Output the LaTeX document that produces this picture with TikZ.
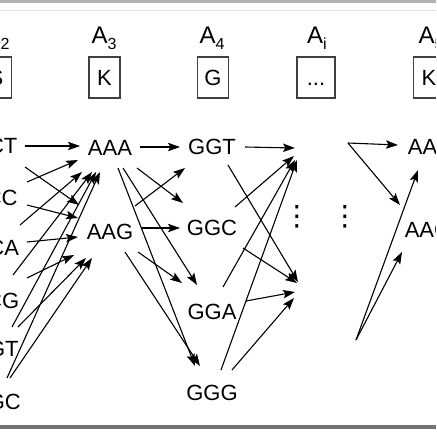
\documentclass[tikz,border=0pt]{standalone}
\usepackage{fontspec}
\setmainfont{Liberation Sans}
\newfontfamily\dotfont{DejaVu Sans}
\usepackage{tikz}
\usetikzlibrary{calc}
\usetikzlibrary{arrows.meta}
\newcommand{\lowidx}[1]{\raisebox{-3pt}{\fontsize{8}{9}\selectfont #1}}

\begin{document}
\begin{tikzpicture}[
  x=0.5pt, y=-0.5pt,
  codon/.style={inner sep=0pt, font=\fontsize{11}{13}\selectfont},
  aabox/.style={draw=black!75, line width=0.7pt, minimum width=15.5pt, minimum height=20.5pt, inner sep=0pt, text height=7.9pt, text depth=0pt, font=\fontsize{11}{13}\selectfont},
  poslbl/.style={anchor=base, inner sep=0pt, font=\fontsize{12}{14}\selectfont},
  vdot/.style={inner sep=0pt, font=\dotfont\fontsize{14}{16}\selectfont},
  link/.style={draw, line width=0.55pt, -{Stealth[length=6pt,width=4.2pt,inset=1.2pt]}} % <-- thin line + filled tip
]
\useasboundingbox (0,0) rectangle (436,436);
\clip (0,0) rectangle (436,436);
% frame
\fill[black!30] (0,0) rectangle (436,3);
\draw[black!12, line width=0.5pt] (0,10) -- (436,10);
\fill[black!55] (0,425) rectangle (436,429);

% positions and amino acids
\node[poslbl] (a2) at (-3,43) {A\lowidx{2}};
\node[poslbl] (a3) at (104,43) {A\lowidx{3}};
\node[poslbl] (a4) at (212,43) {A\lowidx{4}};
\node[poslbl] (ai) at (317,43) {A\lowidx{i}};
\node[poslbl] (a5) at (431,43) {A\lowidx{5}};
\node[aabox] (s2) at (-4,77.5) {S};
\node[aabox] (k3) at (104.5,77.5) {K};
\node[aabox] (g4) at (213,77.5) {G};
\node[aabox, minimum width=19pt] (dd) at (316,77.5) {...};
\node[aabox] (k5) at (429,77.5) {K};

% codons
\node[codon] (tct) at (-4,146) {TCT};
\node[codon] (tcc) at (-5,198) {TCC};
\node[codon] (tca) at (-3,248) {TCA};
\node[codon] (tcg) at (-4,301) {TCG};
\node[codon] (agt) at (-4,349) {AGT};
\node[codon] (agc) at (-3,402) {AGC};
\node[codon] (aaa) at (110,148) {AAA};
\node[codon] (aag) at (110,232) {AAG};
\node[codon] (ggt) at (212,147) {GGT};
\node[codon] (ggc) at (212,228) {GGC};
\node[codon] (gga) at (212,312) {GGA};
\node[codon] (ggg) at (212,393) {GGG};
\node[codon] (aaaR) at (430,147) {AAA};
\node[codon] (aagR) at (428,230) {AAG};
\node[vdot] (vd1) at (297,217) {⋮};
\node[vdot] (vd2) at (345,217) {⋮};
\coordinate (p1) at (297,152);
\coordinate (p2) at (297,287);
\coordinate (q1) at (348,143);
\coordinate (q2) at (356,340);

% S -> K
\draw[link] ($(tct)+(29,0)$) -- ($(aaa)+(-30,-2)$);
\draw[link] ($(tcc)+(32,-16)$) -- ($(aaa)+(-32,12)$);
\draw[link] ($(tca)+(23,-23)$) -- ($(aaa)+(-28,24)$);
\draw[link] ($(tcg)+(17,-26)$) -- ($(aaa)+(-18,24)$);
\draw[link] ($(agt)+(16,-22)$) -- ($(aaa)+(-14,24)$);
\draw[link] ($(agc)+(10,-24)$) -- ($(aaa)+(-10,24)$);
\draw[link] ($(tct)+(29,21)$) -- ($(aag)+(-31,-27)$);
\draw[link] ($(tcc)+(32,7)$) -- ($(aag)+(-32,-14)$);
\draw[link] ($(tca)+(30,-6)$) -- ($(aag)+(-32,5)$);
\draw[link] ($(tcg)+(31,-23)$) -- ($(aag)+(-36,23)$);
\draw[link] ($(agt)+(22,-22)$) -- ($(aag)+(-24,26)$);
\draw[link] ($(agc)+(13,-24)$) -- ($(aag)+(-18,26)$);

% K -> G
\draw[link] ($(aaa)+(30,-1)$) -- ($(ggt)+(-32,0)$);
\draw[link] ($(aaa)+(27,20)$) -- ($(ggc)+(-29,-25)$);
\draw[link] ($(aaa)+(13,20)$) -- ($(gga)+(-15,-27)$);
\draw[link] ($(aaa)+(8,20)$) -- ($(ggg)+(-17,-27)$);
\draw[link] ($(aag)+(25,-26)$) -- ($(ggt)+(-27,21)$);
\draw[link] ($(aag)+(31,-4)$) -- ($(ggc)+(-32,0)$);
\draw[link] ($(aag)+(28,20)$) -- ($(gga)+(-30,-29)$);
\draw[link] ($(aag)+(15,20)$) -- ($(ggg)+(-12,-27)$);

% G -> ...
\draw[link] ($(ggt)+(33,0)$) -- ($(p1)+(-2,-4)$);
\draw[link] ($(ggt)+(16,18)$) -- ($(p2)+(1,-5)$);
\draw[link] ($(ggc)+(23,-21)$) -- ($(p1)+(-3,4)$);
\draw[link] ($(ggc)+(31,20)$) -- ($(p2)+(0,-4)$);
\draw[link] ($(gga)+(11,-25)$) -- ($(p1)+(-2,8)$);
\draw[link] ($(gga)+(34,-11)$) -- ($(p2)+(-2,5)$);
\draw[link] ($(ggg)+(9,-23)$) -- ($(p1)+(0,8)$);
\draw[link] ($(ggg)+(20,-23)$) -- ($(p2)+(-3,11)$);

% ... -> K
\draw[link] (q1) -- ($(aaaR)+(-32,-2)$);
\draw[link] (q1) -- ($(aagR)+(-28,-25)$);
\draw[link] (q2) -- ($(aaaR)+(-12,23)$);
\draw[link] (q2) -- ($(aagR)+(-26,22)$);
\end{tikzpicture}
\end{document}
